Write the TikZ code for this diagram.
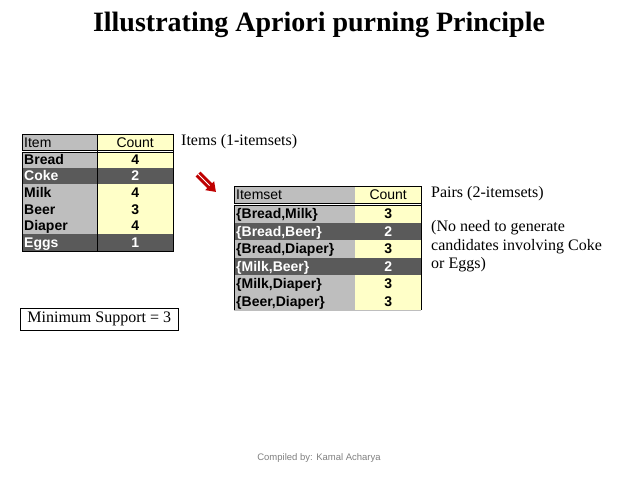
\documentclass[tikz,border=0pt]{standalone}
\usepackage{fontspec}
\setmainfont{Liberation Serif}
\setsansfont{Liberation Sans}
\usetikzlibrary{positioning, arrows.meta}

\definecolor{lgray}{RGB}{190,190,190}
\definecolor{dgray}{RGB}{90,90,90}
\definecolor{lyellow}{RGB}{255,255,200}

\tikzset{
	cell/.style={inner xsep=2pt, inner ysep=0pt, minimum height=#1, text height=11.5pt, text depth=2pt, anchor=north west, font=\sffamily\bfseries\fontsize{14}{14}\selectfont},
	namecell/.style={cell=#1, fill=lgray, align=left},
	cntcell/.style={cell=#1, fill=lyellow, align=center},
	hdr/.style={font=\sffamily\fontsize{14}{14}\selectfont},
	dark/.style={fill=dgray, text=white},
	note/.style={font=\fontsize{16}{18.5}\selectfont, align=left, anchor=north west, inner sep=0pt}
}

\begin{document}
\begin{tikzpicture}[x=1pt, y=-1pt]
	\useasboundingbox (0,0) rectangle (638,479);
	\node[font=\bfseries\fontsize{28}{30}\selectfont] (title) at (319,25) {Illustrating Apriori purning Principle};

	% 1-itemsets
	\node[namecell=17pt, text width=71pt, hdr] (h1) at (22,134) {Item};
	\node[cntcell=17pt, text width=72pt, hdr] (h1c) at (97,134) {Count};
	\foreach \lbl/\cnt/\st [count=\i] in {Bread/4/, Coke/2/dark, Milk/4/, Beer/3/, Diaper/4/, Eggs/1/dark} {
		\node[namecell=16.6pt, text width=71pt, \st] (a\i) at (22,{151+16.6*(\i-1)}) {\lbl};
		\node[cntcell=16.6pt, text width=72pt, \st] (ac\i) at (97,{151+16.6*(\i-1)}) {\cnt};
	}
	\draw[thick] (h1.north west) -- (h1c.north east) -- (ac6.south east) -- (a6.south west) -- cycle;
	\draw[double, thick] (h1.south west) -- (h1c.south east);
	\draw[thin] (h1.north east) -- (a6.south east);

	% 2-itemsets
	\node[namecell=18pt, text width=117pt, hdr] (h2) at (234,186) {Itemset};
	\node[cntcell=18pt, text width=62pt, hdr] (h2c) at (355,186) {Count};
	\foreach \lbl/\cnt/\st [count=\i] in {{\{Bread,Milk\}}/3/, {\{Bread,Beer\}}/2/dark, {\{Bread,Diaper\}}/3/, {\{Milk,Beer\}}/2/dark, {\{Milk,Diaper\}}/3/, {\{Beer,Diaper\}}/3/} {
		\node[namecell=17.5pt, text width=117pt, \st] (b\i) at (234,{205+17.5*(\i-1)}) {\lbl};
		\node[cntcell=17.5pt, text width=62pt, \st] (bc\i) at (355,{205+17.5*(\i-1)}) {\cnt};
	}
	\draw[thick] (b6.south west) -- (h2.north west) -- (h2c.north east) -- (bc6.south east);
	\draw[double, thick] (h2.south west) -- (h2c.south east);
	\draw[very thin, lgray] (b6.south west) -- (bc6.south east);

	% notes
	\node[note] (n1) at (181,134) {Items (1-itemsets)};
	\node[note] (n2) at (431,186) {Pairs (2-itemsets)\\[16pt](No need to generate\\candidates involving Coke\\or Eggs)};
	\node[draw, thick, note, inner xsep=7pt, inner ysep=4pt, anchor=west] (minsup) at (20,319) {Minimum Support = 3};

	\coordinate (arrS) at (198,174);
	\coordinate (arrE) at (216,192);
	\draw[red!75!black, line width=3pt, double=white, double distance=1pt, -{Triangle[length=9pt,width=12pt]}] (arrS) -- (arrE);

	\node[font=\sffamily\fontsize{9.5}{9.5}\selectfont, text=gray] (credit) at (319,458) {Compiled by: Kamal Acharya};
\end{tikzpicture}
\end{document}
